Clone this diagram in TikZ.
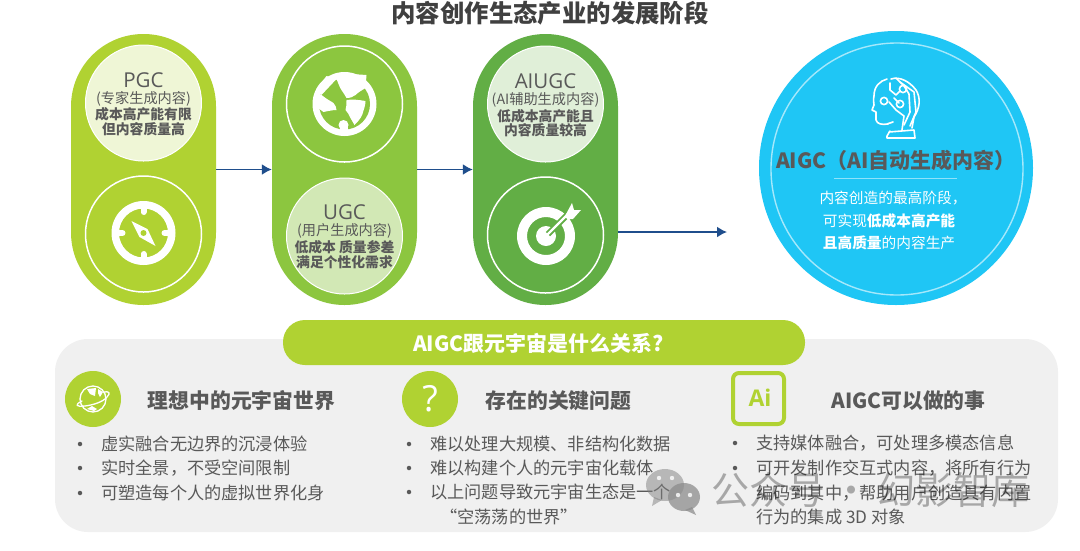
\documentclass[tikz,border=0pt]{standalone}
\usepackage{fontspec}
\setmainfont{Noto Sans CJK SC}
\newfontfamily\latinf{Open Sans}
\usetikzlibrary{arrows.meta}
\definecolor{gA}{HTML}{B0D232}
\definecolor{gAl}{HTML}{EFF6D6}
\definecolor{gB}{HTML}{8CC63F}
\definecolor{gBl}{HTML}{D2E8B5}
\definecolor{gC}{HTML}{62AE45}
\definecolor{gCl}{HTML}{E0EFD8}
\definecolor{sky}{HTML}{1FC6F5}
\definecolor{panel}{HTML}{F0F0F0}
\definecolor{txt}{HTML}{595959}
\definecolor{arr}{HTML}{1F4E8C}
\newcommand{\fs}[1]{\fontsize{#1pt}{#1pt}\selectfont}
\tikzset{
 x=1pt,y=-1pt,
 pill/.style={rounded corners=72.4pt,minimum width=145pt,minimum height=271pt,inner sep=0pt},
 disc/.style={circle,minimum size=116pt,inner sep=0pt},
 ringd/.style={disc,draw=white,line width=1.5pt},
 flow/.style={draw=arr,line width=1.7pt,-{Latex[length=10pt,width=11pt]}},
 tx/.style={text=txt,inner sep=0pt,align=center},
 nm/.style={tx,font=\fs{20.5}\latinf},
 subt/.style={tx,font=\fs{14.2}},
 strongt/.style={tx,font=\fs{13.8}\bfseries},
 headt/.style={tx,font=\fs{20.8}\bfseries},
 bul/.style={tx,anchor=west,font=\fs{17.2}},
 bdot/.style={circle,fill=txt,minimum size=4.5pt,inner sep=0pt},
 iconc/.style={circle,fill=gA,minimum size=56pt,inner sep=0pt},
}
\begin{document}
\begin{tikzpicture}
\useasboundingbox (0,0) rectangle (1080,550);
\fill[white] (0,0) rectangle (1080,550);
\node[text=black!75,font=\fs{24.4}\bfseries,inner sep=0pt] (title) at (550,13) {内容创作生态产业的发展阶段};
% pills
\node[pill,fill=gA] (p1) at (143.5,169.5) {};
\node[pill,fill=gB] (p2) at (344.5,169.5) {};
\node[pill,fill=gC] (p3) at (545.5,169.5) {};
% arrows
\coordinate (e4) at (727,232);
\draw[flow] (p1.east) -- (p2.west);
\draw[flow] (p2.east) -- (p3.west);
\draw[flow] (p3.east |- e4) -- (e4);
% circles
\node[disc,fill=gAl,draw=white,line width=1pt] (c1) at (143.5,103) {};
\node[ringd] (r1) at (143.5,234) {};
\node[ringd] (r2) at (344.5,104) {};
\node[disc,fill=gBl,draw=white,line width=1pt] (c2) at (344.5,236) {};
\node[disc,fill=gCl,draw=white,line width=1pt] (c3) at (545.5,104) {};
\node[ringd] (r3) at (545.5,235) {};
% texts
\node[nm] (n1) at (143.5,80) {PGC};
\node[subt] (n1a) at (143.5,99) {(专家生成内容)};
\node[strongt] (n1b) at (143.5,114) {成本高产能有限};
\node[strongt] (n1c) at (143.5,129) {但内容质量高};
\node[nm] (n2) at (344.5,212) {UGC};
\node[subt] (n2a) at (344.5,231) {(用户生成内容)};
\node[strongt] (n2b) at (344.5,247) {低成本 质量参差};
\node[strongt] (n2c) at (344.5,262) {满足个性化需求};
\node[nm] (n3) at (545.5,81) {AIUGC};
\node[subt] (n3a) at (545.5,100) {(AI辅助生成内容)};
\node[strongt] (n3b) at (545.5,116) {低成本高产能且};
\node[strongt] (n3c) at (545.5,130) {内容质量较高};
% compass
\begin{scope}[shift={(143.5,233)}]
\fill[white,even odd rule] (0,0) circle (32) (0,0) circle (24.5);
\foreach \a in {0,90,180,270}{\draw[white,line width=6pt,line cap=round,rotate=\a] (27,0) -- (21,0);}
\fill[white] (-12,-12) -- (4,-4) -- (12,13) -- (-4,4) -- cycle;
\fill[gA] (0,0) circle (3);
\end{scope}
% globe
\begin{scope}[shift={(344.5,104)}]
\fill[white] (0,0) circle (32);
\fill[gB] (0,0) circle (25.5);
\fill[white] (-8,-25) .. controls (-6,-20) and (-4,-15) .. (-3,-14) .. controls (-1,-11) and (1,-8) .. (2,-6) .. controls (6,-6) and (8,-7) .. (11,-9) .. controls (14,-12) and (18,-14) .. (21,-16) -- (22,-29) -- (-8,-31) -- cycle;
\fill[white] (-23,-9) .. controls (-18,-5) and (-14,-3) .. (-11,-1) .. controls (-9,1) and (-8,4) .. (-8,6) .. controls (-12,6) and (-16,7) .. (-21,8) -- (-29,2) -- (-27,-9) -- cycle;
\fill[white] (-23,-9) -- (-8,-25) -- (-18,-28) -- (-28,-15) -- cycle;
\fill[white] (2,-4) .. controls (8,-5) and (15,-4) .. (21,-3) .. controls (21,2) and (19,6) .. (18,10) .. controls (16,15) and (13,18) .. (10,21) .. controls (8,19) and (8,16) .. (6,14) .. controls (4,10) and (3,8) .. (1,6) .. controls (2,3) and (2,0) .. (2,-4) -- cycle;
\fill[white] (-1,21) circle (5);
\fill[white] (-5,21) rectangle (3,28);
\end{scope}
% target
\begin{scope}[shift={(546,236)}]
\fill[white,even odd rule] (0,0) circle (29) (0,0) circle (19);
\fill[white] (0,0) circle (10);
\draw[gC,line width=6pt] (2,-2) -- (24,-24);
\draw[white,line width=2.4pt] (0,0) -- (25,-25);
\fill[white] (19,-20) -- (26,-33) -- (28,-26) -- (35,-26) -- (27,-17) -- (21,-17) -- cycle;
\end{scope}
% big circle
\node[circle,fill=sky,minimum size=274pt,inner sep=0pt] (big) at (896,168) {};
\node[circle,draw=white!60!sky,line width=1.4pt,minimum size=252pt,inner sep=0pt] (bigr) at (897,169) {};
% head icon
\begin{scope}[shift={(860,70)},white,line width=1.6pt,line join=round,line cap=round]
\draw (27,9) .. controls (20,11) and (14,16) .. (14,26) .. controls (13,30) and (14,33) .. (14,35) -- (12,40) -- (16,42) -- (16,50) .. controls (17,54) and (22,55) .. (28,54);
\draw (31,9) .. controls (40,6) and (50,12) .. (56,20) .. controls (61,28) and (60,38) .. (54,47) -- (52,58);
\draw (30,61) -- (27,66) -- (27,68) -- (55,68) -- (54,60) -- (29,62);
\draw (27,54) -- (33,52);
\draw (30,13) -- (30,20) -- (36,25) -- (40,21);
\draw (36,8) -- (44,16) -- (49,24) -- (50,42) -- (44,55);
\draw (40,12) -- (54,22) -- (56,42) -- (50,56);
\draw (29,32) -- (36,40) -- (44,46) -- (42,60);
\draw (34,28) -- (39,33);
\draw (24,31) circle (3.6);
\draw (43,19) circle (3.6);
\draw (40,34) circle (3.6);
\end{scope}
\node[tx,font=\fs{21}\bfseries] (bt) at (896,160) {AIGC（AI自动生成内容）};
\coordinate (l1) at (834,178);
\coordinate (l2) at (957,178);
\draw[white!50!sky,line width=1pt] (l1) -- (l2);
\node[text=white,inner sep=0pt,font=\fs{14.7}] (b1) at (893,198) {内容创造的最高阶段，};
\node[text=white,inner sep=0pt,font=\fs{14.7}] (b2) at (889,221) {可实现\textbf{低成本高产能}};
\node[text=white,inner sep=0pt,font=\fs{14.7}] (b3) at (889,243) {\textbf{且高质量}的内容生产};
% lower panel
\node[fill=panel,rounded corners=33pt,minimum width=1003pt,minimum height=193pt,inner sep=0pt] (pan) at (556.5,435.5) {};
\node[fill=gA,rounded corners=22pt,minimum width=522pt,minimum height=45pt,inner sep=0pt] (ban) at (544,342.5) {};
\node[text=white,inner sep=0pt,font=\fs{21}\bfseries] (bant) at (538.5,343) {AIGC跟元宇宙是什么关系?};
% column icons
\node[iconc] (i1) at (93,399) {};
\begin{scope}[shift={(93,399)},white,line cap=round,line join=round]
\draw[line width=1.3pt] (0,0) circle (13);
\draw[line width=1.3pt] (-11,2) .. controls (-19,6) and (-17,8) .. (-8,7) .. controls (0,6) and (10,3) .. (14,-2) .. controls (18,-6) and (16,-8) .. (11,-7);
\fill (-6,-10) -- (-3,-5) -- (2,-3) -- (3,-11) -- cycle;
\fill (5,-10) -- (10,-7) -- (7,-2) -- (5,-6) -- cycle;
\fill (-6,10) -- (-1,7) -- (4,10) -- (1,12) -- cycle;
\end{scope}
\node[iconc] (i2) at (430,399) {};
\node[text=white,inner sep=0pt,font=\fs{36}\latinf] (q) at (430,399) {?};
\node[draw=gA,line width=4pt,rounded corners=6pt,fill=panel,minimum size=51pt,inner sep=0pt] (i3) at (758.5,398.5) {};
\node[text=gA,inner sep=0pt,font=\fs{23}\latinf\bfseries] (ai) at (760,398) {Ai};
\node[headt] (h1) at (241.5,401) {理想中的元宇宙世界};
\node[headt] (h2) at (558.5,401) {存在的关键问题};
\node[headt] (h3) at (908.5,401) {AIGC可以做的事};
% bullets
\foreach \n/\x/\y/\s in {
 a/80/444/虚实融合无边界的沉浸体验,
 b/80/468/实时全景，不受空间限制,
 c/80/493/可塑造每个人的虚拟世界化身,
 d/409/444/难以处理大规模、非结构化数据,
 e/409/468/难以构建个人的元宇宙化载体,
 f/409/492/以上问题导致元宇宙生态是一个,
 g/735/443/支持媒体融合，可处理多模态信息,
 h/735/468/可开发制作交互式内容，将所有行为}{
 \node[bdot] (d\n) at (\x,\y) {};
 \node[bul] (s\n) at (\x+21,\y) {\s};
}
\node[bul] (sf2) at (440,517) {“空荡荡的世界”};
\node[bul] (sh2) at (756,493) {编码到其中，帮助用户创造具有内置};
\node[bul] (sh3) at (756,517) {行为的集成 3D 对象};
% watermark
\begin{scope}[opacity=0.5]
\fill[black!50] (665,485) ellipse (19 and 16);
\fill[black!50] (654,497) -- (652,506) -- (662,500) -- cycle;
\end{scope}
\begin{scope}[opacity=0.75]
\fill[black!45] (684,497) ellipse (16 and 14);
\fill[black!45] (692,507) -- (696,515) -- (685,510) -- cycle;
\end{scope}
\fill[white,opacity=.8] (659,478) circle (2.2) (672,478) circle (2.2) (678,495) circle (2.2) (690,495) circle (2.2);
\node[text=black,opacity=0.3,inner sep=0pt,anchor=west,font=\fs{38}] (wm) at (711,490) {公众号\makebox[52pt]{·}幻影智库};
\end{tikzpicture}
\end{document}
